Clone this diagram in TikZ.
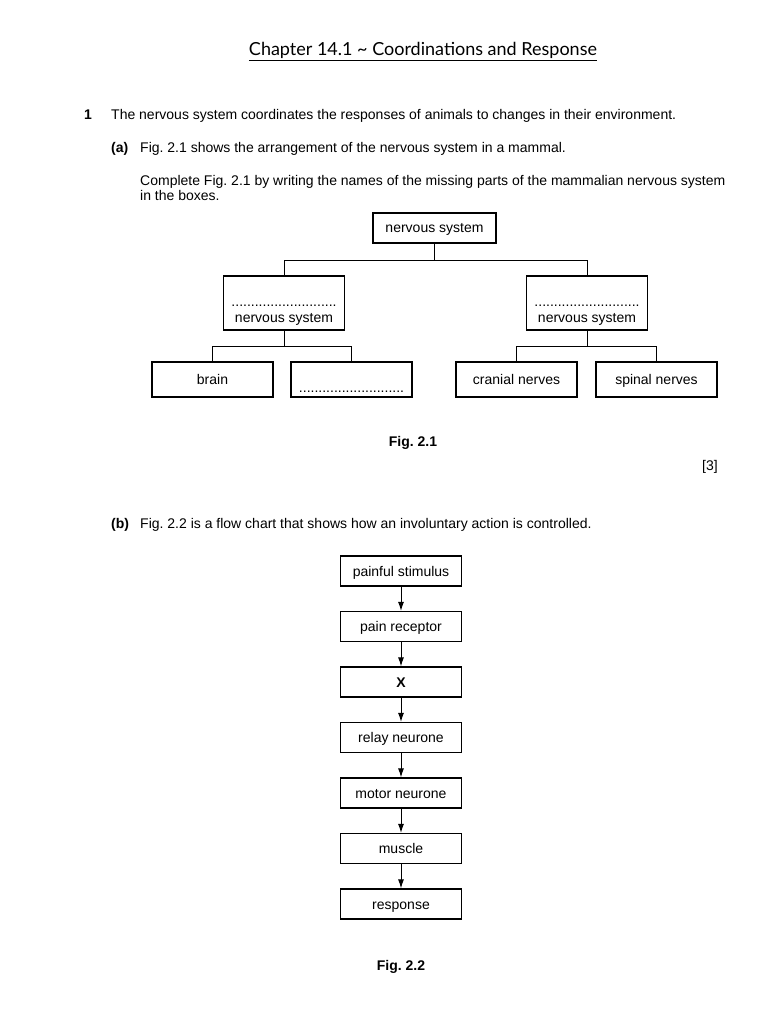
\documentclass[tikz,border=0pt]{standalone}
\usepackage{fontspec}
\setmainfont{Liberation Sans}
\newfontfamily\titlefont{Lato}
\usetikzlibrary{positioning,shapes,arrows.meta}

\newcommand{\blankdots}{...........................}
\newcommand{\midtext}{\rule{0pt}{27pt}\blankdots\\nervous system\strut}

\begin{document}
\frenchspacing
\begin{tikzpicture}[x=1pt, y=-1pt,
  every node/.style={font=\fontsize{14}{16}\selectfont},
  txt/.style={anchor=base west, inner sep=0pt},
  boldtxt/.style={inner sep=0pt, font=\fontsize{14}{16}\selectfont\bfseries},
  box/.style={draw, rectangle, line width=1.2pt, minimum width=121pt, inner sep=0pt, align=center},
  cell/.style={box, text height=13pt, text depth=3pt},
  link/.style={line width=1pt},
  flow/.style={line width=1pt, -{Latex[length=9pt,width=6pt]}}]
\useasboundingbox (0,0) rectangle (768,1024);

% Heading and question text
\node[anchor=base, inner sep=0pt, font=\titlefont\fontsize{18}{20}\selectfont] (title) at (423,56) {\underline{Chapter 14.1 \textasciitilde{} Coordinations and Response}};

\node[boldtxt, anchor=base west] (q1) at (84,120) {1};
\node[txt] (q1text) at (111,120) {The nervous system coordinates the responses of animals to changes in their environment.};
\node[boldtxt, anchor=base west] (qa) at (111,153) {(a)};
\node[txt] (qatext) at (140,153) {Fig. 2.1 shows the arrangement of the nervous system in a mammal.};
\node[txt] (qatask) at (140,186) {Complete Fig. 2.1 by writing the names of the missing parts of the mammalian nervous system};
\node[txt] (qatask2) at (140,201) {in the boxes.};

% Fig. 2.1 - tree of the nervous system
\node[cell, minimum width=123pt, minimum height=30pt] (ns) at (434.5,228) {nervous system};

\node[box, minimum height=54pt] (cns) at (284,303) {\midtext};
\node[box, minimum height=54pt] (pns) at (587,303) {\midtext};

\node[cell, minimum height=35pt] (brain) at (212.5,379.5) {brain};
\node[box, minimum height=35pt, text height=25pt, text depth=0pt] (cord) at (351.5,379.5) {\blankdots};
\node[cell, minimum height=35pt] (cranial) at (516.5,379.5) {cranial nerves};
\node[cell, minimum height=35pt] (spinal) at (656.5,379.5) {spinal nerves};

% Branch lines
\draw[link] (ns.south) -- ++(0,16.5) -| (cns.north);
\draw[link] (ns.south) -- ++(0,16.5) -| (pns.north);
\draw[link] (cns.south) -- ++(0,15.5) -| (brain.north);
\draw[link] (cns.south) -- ++(0,15.5) -| (cord.north);
\draw[link] (pns.south) -- ++(0,15.5) -| (cranial.north);
\draw[link] (pns.south) -- ++(0,15.5) -| (spinal.north);

\node[boldtxt, anchor=base] (fig1) at (413,446) {Fig. 2.1};
\node[txt, anchor=base east] (marks) at (718,470) {[3]};

\node[boldtxt, anchor=base west] (qb) at (111,528) {(b)};
\node[txt] (qbtext) at (140,528) {Fig. 2.2 is a flow chart that shows how an involuntary action is controlled.};

% Fig. 2.2 - flow chart
\node[cell, minimum height=30pt] (stimulus) at (401,571) {painful stimulus};
\node[cell, minimum height=30pt, below=24.3pt of stimulus] (receptor) {pain receptor};
\node[cell, minimum height=30pt, below=24.3pt of receptor] (x) {\textbf{X}};
\node[cell, minimum height=30pt, below=24.3pt of x] (relay) {relay neurone};
\node[cell, minimum height=30pt, below=24.3pt of relay] (motor) {motor neurone};
\node[cell, minimum height=30pt, below=24.3pt of motor] (muscle) {muscle};
\node[cell, minimum height=30pt, below=24.3pt of muscle] (response) {response};

\draw[flow] (stimulus) -- (receptor);
\draw[flow] (receptor) -- (x);
\draw[flow] (x) -- (relay);
\draw[flow] (relay) -- (motor);
\draw[flow] (motor) -- (muscle);
\draw[flow] (muscle) -- (response);

\node[boldtxt, anchor=base] (fig2) at (401,970) {Fig. 2.2};
\end{tikzpicture}
\end{document}
